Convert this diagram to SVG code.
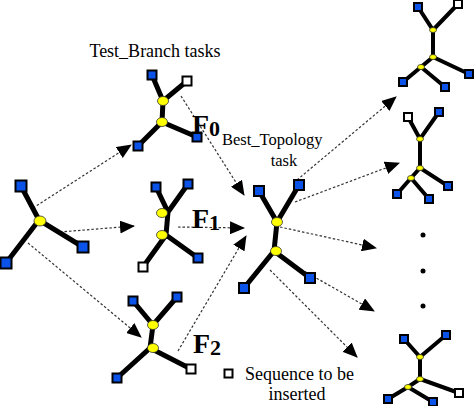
<svg xmlns="http://www.w3.org/2000/svg" width="474" height="406" viewBox="0 0 474 406">
<defs>
<style>
.br{stroke:#000;stroke-width:5;stroke-linecap:round;fill:none}
.br2{stroke:#000;stroke-width:4;stroke-linecap:round;fill:none}
.lf{fill:#0a52e8;stroke:#000;stroke-width:2}
.lw{fill:#fff;stroke:#000;stroke-width:2}
.jn{fill:#ffff00;stroke:#333;stroke-width:0.8}
.ed{stroke:#333;stroke-width:1.2;stroke-dasharray:2.5 2;fill:none;marker-end:url(#ah)}
.t{font-family:"Liberation Serif",serif;font-size:18px;fill:#000}
.ts{font-size:16.5px}
.f{font-family:"Liberation Serif",serif;font-size:28px;font-weight:bold;fill:#000}
.fs{font-size:22px}
</style>
<marker id="ah" markerWidth="15" markerHeight="13" refX="14" refY="6.5" orient="auto" markerUnits="userSpaceOnUse">
<path d="M0,0 L15,6.5 L0,13 z" fill="#000"/>
</marker>
</defs>
<rect width="474" height="406" fill="#fff"/>

<g id="connectors">
<line class="ed" x1="33" y1="208" x2="131" y2="145"/>
<line class="ed" x1="60" y1="232" x2="134" y2="226"/>
<line class="ed" x1="28" y1="243" x2="141" y2="337"/>
<line class="ed" x1="181" y1="96" x2="244" y2="195"/>
<line class="ed" x1="178" y1="227" x2="244" y2="228"/>
<line class="ed" x1="178" y1="351" x2="246" y2="236"/>
<line class="ed" x1="297" y1="180" x2="396" y2="97"/>
<line class="ed" x1="295" y1="202" x2="399" y2="163"/>
<line class="ed" x1="280" y1="227" x2="376" y2="248"/>
<line class="ed" x1="297" y1="267" x2="374" y2="311"/>
<line class="ed" x1="270" y1="270" x2="357" y2="357"/>
</g>

<g id="start_tree">
<path class="br" d="M21,186 L39,220 M6,263 L39,220 L83,247" stroke-width="6"/>
<rect class="lf" x="15.5" y="180.5" width="11" height="11"/>
<rect class="lf" x="0.5" y="257.5" width="11" height="11"/>
<rect class="lf" x="77.5" y="241.5" width="11" height="11"/>
<ellipse class="jn" cx="40" cy="221" rx="6" ry="5"/>
</g>

<g id="test_tree_0">
<path class="br" d="M152,75 L163,101 L187,81 M163,101 L162,122 L138,146 M162,122 L197,137"/>
<rect class="lf" x="147.5" y="70.5" width="9" height="9"/>
<rect class="lw" x="182.5" y="76.5" width="9" height="9"/>
<rect class="lf" x="133.5" y="141.5" width="9" height="9"/>
<rect class="lf" x="192.5" y="132.5" width="9" height="9"/>
<ellipse class="jn" cx="163" cy="101" rx="5.5" ry="4.5"/>
<ellipse class="jn" cx="162" cy="122" rx="5.5" ry="4.5"/>
</g>

<g id="test_tree_1">
<path class="br" d="M156,187 L168,212 L188,184 M168,212 L166,235 L143,267 M166,235 L198,258"/>
<rect class="lf" x="151.5" y="182.5" width="9" height="9"/>
<rect class="lf" x="183.5" y="179.5" width="9" height="9"/>
<rect class="lw" x="138.5" y="262.5" width="9" height="9"/>
<rect class="lf" x="193.5" y="253.5" width="9" height="9"/>
<ellipse class="jn" cx="162" cy="213" rx="5.5" ry="4.5"/>
<ellipse class="jn" cx="162" cy="235" rx="5.5" ry="4.5"/>
</g>

<g id="test_tree_2">
<path class="br" d="M133,301 L153,325 L177,297 M153,325 L150,348 L117,378 M150,348 L191,369"/>
<rect class="lf" x="128.5" y="296.5" width="9" height="9"/>
<rect class="lf" x="172.5" y="292.5" width="9" height="9"/>
<rect class="lf" x="112.5" y="373.5" width="9" height="9"/>
<rect class="lw" x="186.5" y="364.5" width="9" height="9"/>
<ellipse class="jn" cx="153" cy="325" rx="5.5" ry="4.5"/>
<ellipse class="jn" cx="153" cy="348" rx="5.5" ry="4.5"/>
</g>

<g id="best_tree">
<path class="br" d="M259,191 L277,222 L299,185 M277,222 L274,251 L244,288 M274,251 L310,278"/>
<rect class="lf" x="254" y="186" width="10" height="10"/>
<rect class="lf" x="294" y="180" width="10" height="10"/>
<rect class="lf" x="239" y="283" width="10" height="10"/>
<rect class="lf" x="305" y="273" width="10" height="10"/>
<ellipse class="jn" cx="277" cy="222" rx="5.5" ry="4.5"/>
<ellipse class="jn" cx="276" cy="251" rx="5.5" ry="4.5"/>
</g>

<g id="result_tree_1">
<path class="br2" d="M418,7 L433,30 L458,4 M433,30 L433,57 L469,74 M433,57 L421,67 L403,82 M421,67 L445,87"/>
<rect class="lf" x="414" y="3" width="8" height="8"/>
<rect class="lw" x="454" y="0" width="8" height="8"/>
<rect class="lf" x="399" y="78" width="8" height="8"/>
<rect class="lf" x="441" y="83" width="8" height="8"/>
<rect class="lf" x="465" y="70" width="8" height="8"/>
<ellipse class="jn" cx="433" cy="30" rx="3.5" ry="2.5"/>
<ellipse class="jn" cx="433" cy="57" rx="3.5" ry="2.5"/>
<ellipse class="jn" cx="421" cy="67" rx="3.5" ry="2.5"/>
</g>

<g id="result_tree_2">
<path class="br2" d="M408,117 L420,139 L439,112 M420,139 L420,168 L448,186 M420,168 L411,178 L397,194 M411,178 L429,199"/>
<rect class="lw" x="404" y="113" width="8" height="8"/>
<rect class="lf" x="435" y="108" width="8" height="8"/>
<rect class="lf" x="393" y="190" width="8" height="8"/>
<rect class="lf" x="425" y="195" width="8" height="8"/>
<rect class="lf" x="444" y="182" width="8" height="8"/>
<ellipse class="jn" cx="420" cy="139" rx="3.5" ry="2.5"/>
<ellipse class="jn" cx="420" cy="168" rx="3.5" ry="2.5"/>
<ellipse class="jn" cx="411" cy="178" rx="3.5" ry="2.5"/>
</g>

<g id="result_tree_3">
<path class="br2" d="M404,339 L420,357 L446,335 M420,357 L420,379 L459,393 M420,379 L408,387 L388,399 M408,387 L433,402"/>
<rect class="lf" x="400" y="335" width="8" height="8"/>
<rect class="lf" x="442" y="331" width="8" height="8"/>
<rect class="lf" x="384" y="395" width="8" height="8"/>
<rect class="lf" x="429" y="398" width="8" height="8"/>
<rect class="lw" x="455" y="389" width="8" height="8"/>
<ellipse class="jn" cx="420" cy="357" rx="3.5" ry="2.5"/>
<ellipse class="jn" cx="420" cy="379" rx="3.5" ry="2.5"/>
<ellipse class="jn" cx="408" cy="387" rx="3.5" ry="2.5"/>
</g>

<g id="ellipsis">
<circle cx="423" cy="235" r="2.5" fill="#000"/>
<circle cx="423" cy="271" r="2.5" fill="#000"/>
<circle cx="423" cy="306" r="2.5" fill="#000"/>
</g>

<g id="labels">
<text class="t" x="155" y="57" text-anchor="middle">Test_Branch tasks</text>
<text class="f" x="192" y="134">F<tspan class="fs" dy="2">0</tspan></text>
<text class="t ts" x="222" y="145">Best_Topology</text>
<text class="t ts" x="284" y="166" text-anchor="middle">task</text>
<text class="f" x="192" y="228">F<tspan class="fs" dy="2">1</tspan></text>
<text class="f" x="193" y="353">F<tspan class="fs" dy="2">2</tspan></text>
</g>

<g id="legend">
<rect class="lw" x="224.5" y="369.5" width="8" height="8"/>
<text class="t" x="245" y="380">Sequence to be</text>
<text class="t" x="297" y="400" text-anchor="middle">inserted</text>
</g>
</svg>
